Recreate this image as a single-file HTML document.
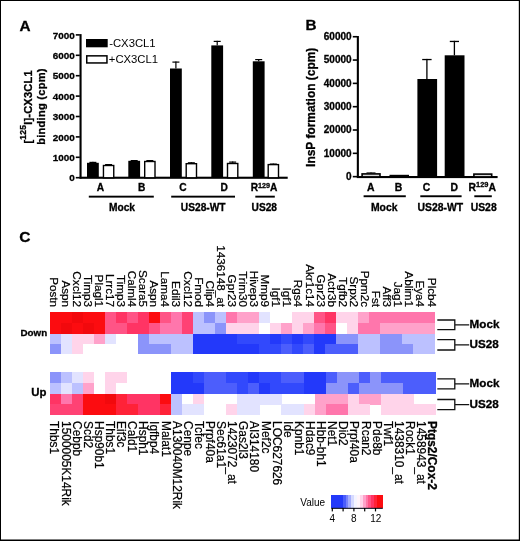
<!DOCTYPE html><html><head><meta charset="utf-8"><title>Figure</title><style>
html,body{margin:0;padding:0;background:#fff}svg{display:block}
text{font-family:"Liberation Sans",Arial,sans-serif;fill:#000}
.b,.ta,.tb,.r{stroke:#000;stroke-width:0.3px}.b{font-weight:bold}.ta{font-size:10.2px;font-weight:bold}.tb{font-size:10.4px;font-weight:bold}
.g{font-size:11.7px;stroke:#000;stroke-width:0.22px}.r{font-size:11.7px;font-weight:bold}
</style></head><body>
<svg width="520" height="541" viewBox="0 0 520 541">
<rect x="0" y="0" width="520" height="541" fill="#fff"/>
<rect x="0" y="0" width="520" height="1" fill="#000"/><rect x="0" y="0" width="1" height="541" fill="#000"/>
<rect x="518.8" y="0" width="1.2" height="541" fill="#000"/><rect x="0" y="539.5" width="520" height="1.5" fill="#000"/>
<text class="b" x="19.6" y="30.6" font-size="15.3">A</text>
<text class="b" font-size="11.1" letter-spacing="0.18" text-anchor="middle" transform="translate(32,106.9) rotate(-90)">[<tspan font-size="8.6" dy="-6.1">125</tspan><tspan dy="6.1">I]-CX3CL1</tspan></text>
<text class="b" font-size="11.1" letter-spacing="0.25" text-anchor="middle" transform="translate(44.6,106.5) rotate(-90)">binding (cpm)</text>
<rect x="79.5" y="34.1" width="2.1" height="144.5" fill="#000"/>
<rect x="79.5" y="176.7" width="208.2" height="2.1" fill="#000"/>
<rect x="75.8" y="176.90" width="4" height="1.6" fill="#000"/>
<text class="ta" style="font-size:9.9px" x="74.7" y="181.30" text-anchor="end">0</text>
<rect x="75.8" y="156.50" width="4" height="1.6" fill="#000"/>
<text class="ta" style="font-size:9.9px" x="74.7" y="160.90" text-anchor="end">1000</text>
<rect x="75.8" y="136.10" width="4" height="1.6" fill="#000"/>
<text class="ta" style="font-size:9.9px" x="74.7" y="140.50" text-anchor="end">2000</text>
<rect x="75.8" y="115.70" width="4" height="1.6" fill="#000"/>
<text class="ta" style="font-size:9.9px" x="74.7" y="120.10" text-anchor="end">3000</text>
<rect x="75.8" y="95.30" width="4" height="1.6" fill="#000"/>
<text class="ta" style="font-size:9.9px" x="74.7" y="99.70" text-anchor="end">4000</text>
<rect x="75.8" y="74.90" width="4" height="1.6" fill="#000"/>
<text class="ta" style="font-size:9.9px" x="74.7" y="79.30" text-anchor="end">5000</text>
<rect x="75.8" y="54.50" width="4" height="1.6" fill="#000"/>
<text class="ta" style="font-size:9.9px" x="74.7" y="58.90" text-anchor="end">6000</text>
<rect x="75.8" y="34.10" width="4" height="1.6" fill="#000"/>
<text class="ta" style="font-size:9.9px" x="74.7" y="38.50" text-anchor="end">7000</text>
<rect x="87.00" y="162.80" width="11.80" height="15.00" fill="#000"/>
<rect x="92.30" y="161.80" width="1.20" height="1.00" fill="#000"/>
<rect x="89.40" y="161.80" width="7.00" height="1.20" fill="#000"/>
<rect x="103.45" y="165.50" width="10.30" height="12.30" fill="#fff" stroke="#000" stroke-width="1.4"/>
<rect x="108.00" y="164.00" width="1.20" height="0.80" fill="#000"/>
<rect x="105.10" y="164.00" width="7.00" height="1.20" fill="#000"/>
<rect x="128.30" y="160.80" width="11.80" height="17.00" fill="#000"/>
<rect x="133.60" y="160.00" width="1.20" height="0.80" fill="#000"/>
<rect x="130.70" y="160.00" width="7.00" height="1.20" fill="#000"/>
<rect x="144.70" y="161.50" width="10.30" height="16.30" fill="#fff" stroke="#000" stroke-width="1.4"/>
<rect x="149.25" y="160.00" width="1.20" height="0.80" fill="#000"/>
<rect x="146.35" y="160.00" width="7.00" height="1.20" fill="#000"/>
<rect x="170.00" y="68.50" width="11.80" height="109.30" fill="#000"/>
<rect x="175.30" y="61.50" width="1.20" height="7.00" fill="#000"/>
<rect x="172.40" y="61.50" width="7.00" height="1.20" fill="#000"/>
<rect x="186.20" y="163.70" width="10.30" height="14.10" fill="#fff" stroke="#000" stroke-width="1.4"/>
<rect x="190.75" y="162.20" width="1.20" height="0.80" fill="#000"/>
<rect x="187.85" y="162.20" width="7.00" height="1.20" fill="#000"/>
<rect x="211.30" y="45.40" width="11.80" height="132.40" fill="#000"/>
<rect x="216.60" y="40.80" width="1.20" height="4.60" fill="#000"/>
<rect x="213.70" y="40.80" width="7.00" height="1.20" fill="#000"/>
<rect x="227.50" y="163.50" width="10.30" height="14.30" fill="#fff" stroke="#000" stroke-width="1.4"/>
<rect x="232.05" y="161.50" width="1.20" height="1.30" fill="#000"/>
<rect x="229.15" y="161.50" width="7.00" height="1.20" fill="#000"/>
<rect x="252.80" y="61.30" width="11.80" height="116.50" fill="#000"/>
<rect x="258.10" y="59.00" width="1.20" height="2.30" fill="#000"/>
<rect x="255.20" y="59.00" width="7.00" height="1.20" fill="#000"/>
<rect x="268.20" y="164.60" width="10.30" height="13.20" fill="#fff" stroke="#000" stroke-width="1.4"/>
<rect x="272.75" y="163.50" width="1.20" height="0.40" fill="#000"/>
<rect x="269.85" y="163.50" width="7.00" height="1.20" fill="#000"/>
<text class="ta" x="100.5" y="191.2" text-anchor="middle">A</text>
<text class="ta" x="141.8" y="191.2" text-anchor="middle">B</text>
<text class="ta" x="183.0" y="191.2" text-anchor="middle">C</text>
<text class="ta" x="224.3" y="191.2" text-anchor="middle">D</text>
<text class="ta" x="250.7" y="191.3">R<tspan font-size="7.2" dy="-3.4">129</tspan><tspan dy="3.4">A</tspan></text>
<rect x="88.8" y="195.7" width="65.0" height="1.9" fill="#000"/>
<rect x="171.2" y="195.7" width="63.8" height="1.9" fill="#000"/>
<rect x="255.3" y="195.7" width="19.5" height="1.9" fill="#000"/>
<text class="ta" x="122.0" y="211.3" text-anchor="middle">Mock</text>
<text class="ta" x="203.2" y="211.3" text-anchor="middle">US28-WT</text>
<text class="ta" x="264.3" y="211.3" text-anchor="middle">US28</text>
<rect x="86" y="39" width="21.7" height="8.3" fill="#000"/>
<rect x="86.75" y="55.85" width="20.2" height="7.1" fill="#fff" stroke="#000" stroke-width="1.5"/>
<text x="109.2" y="47.3" font-size="11.3">-CX3CL1</text>
<text x="108.8" y="63" font-size="11.3">+CX3CL1</text>
<text class="b" x="305.4" y="30.4" font-size="15.3">B</text>
<text class="b" font-size="11.95" text-anchor="middle" transform="translate(315,107.3) rotate(-90)">InsP formation (cpm)</text>
<rect x="356.8" y="36" width="2.1" height="141.6" fill="#000"/>
<rect x="356.8" y="176" width="140.8" height="2.1" fill="#000"/>
<rect x="352.8" y="175.85" width="4.2" height="1.6" fill="#000"/>
<text class="tb" style="font-size:10px" x="351.6" y="180.05" text-anchor="end">0</text>
<rect x="352.8" y="152.53" width="4.2" height="1.6" fill="#000"/>
<text class="tb" style="font-size:10px" x="351.6" y="156.73" text-anchor="end">10000</text>
<rect x="352.8" y="129.21" width="4.2" height="1.6" fill="#000"/>
<text class="tb" style="font-size:10px" x="351.6" y="133.41" text-anchor="end">20000</text>
<rect x="352.8" y="105.89" width="4.2" height="1.6" fill="#000"/>
<text class="tb" style="font-size:10px" x="351.6" y="110.09" text-anchor="end">30000</text>
<rect x="352.8" y="82.57" width="4.2" height="1.6" fill="#000"/>
<text class="tb" style="font-size:10px" x="351.6" y="86.77" text-anchor="end">40000</text>
<rect x="352.8" y="59.25" width="4.2" height="1.6" fill="#000"/>
<text class="tb" style="font-size:10px" x="351.6" y="63.45" text-anchor="end">50000</text>
<rect x="352.8" y="35.93" width="4.2" height="1.6" fill="#000"/>
<text class="tb" style="font-size:10px" x="351.6" y="40.13" text-anchor="end">60000</text>
<rect x="362.10" y="173.90" width="17.90" height="3.00" fill="#d8d8d8" stroke="#000" stroke-width="1.6"/>
<rect x="370.50" y="172.40" width="1.00" height="0.90" fill="#000"/>
<rect x="366.50" y="172.40" width="9.00" height="1.00" fill="#000"/>
<rect x="389.50" y="174.80" width="19.50" height="1.80" fill="#000"/>
<rect x="417.40" y="79.00" width="19.70" height="97.60" fill="#000"/>
<rect x="426.25" y="58.90" width="1.30" height="20.10" fill="#000"/>
<rect x="422.20" y="58.90" width="9.40" height="1.30" fill="#000"/>
<rect x="444.70" y="55.30" width="19.80" height="121.30" fill="#000"/>
<rect x="453.75" y="40.80" width="1.30" height="14.50" fill="#000"/>
<rect x="449.80" y="40.80" width="9.20" height="1.30" fill="#000"/>
<rect x="473.90" y="174.10" width="17.80" height="2.80" fill="#d8d8d8" stroke="#000" stroke-width="1.6"/>
<text class="tb" x="370.7" y="190.8" text-anchor="middle">A</text>
<text class="tb" x="398.5" y="190.8" text-anchor="middle">B</text>
<text class="tb" x="426.6" y="190.8" text-anchor="middle">C</text>
<text class="tb" x="454.3" y="190.8" text-anchor="middle">D</text>
<text class="tb" x="468.6" y="190.8">R<tspan font-size="7.4" dy="-3.6">129</tspan><tspan dy="3.6">A</tspan></text>
<rect x="363.6" y="195.3" width="42.2" height="1.9" fill="#000"/>
<rect x="420.3" y="195.3" width="41.3" height="1.9" fill="#000"/>
<rect x="474.3" y="195.3" width="17.5" height="1.9" fill="#000"/>
<text class="tb" x="384.2" y="210.5" text-anchor="middle">Mock</text>
<text class="tb" x="440.4" y="210.5" text-anchor="middle">US28-WT</text>
<text class="tb" x="483.7" y="210.5" text-anchor="middle">US28</text>
<text class="b" x="19.2" y="241.6" font-size="15.5">C</text>
<g shape-rendering="crispEdges">
<rect x="49.50" y="311.90" width="22.32" height="11.10" fill="#fc0c10"/>
<rect x="71.52" y="311.90" width="11.31" height="11.10" fill="#f2090d"/>
<rect x="82.53" y="311.90" width="22.32" height="11.10" fill="#fc0c10"/>
<rect x="104.54" y="311.90" width="11.31" height="11.10" fill="#ff5486"/>
<rect x="115.55" y="311.90" width="11.31" height="11.10" fill="#ff3464"/>
<rect x="126.56" y="311.90" width="11.31" height="11.10" fill="#ff5486"/>
<rect x="137.57" y="311.90" width="11.31" height="11.10" fill="#ff3464"/>
<rect x="148.58" y="311.90" width="11.31" height="11.10" fill="#fc0c10"/>
<rect x="159.59" y="311.90" width="11.31" height="11.10" fill="#ff5486"/>
<rect x="170.59" y="311.90" width="11.31" height="11.10" fill="#ff76ac"/>
<rect x="181.60" y="311.90" width="11.31" height="11.10" fill="#ff4274"/>
<rect x="192.61" y="311.90" width="11.31" height="11.10" fill="#bcc1ff"/>
<rect x="203.62" y="311.90" width="11.31" height="11.10" fill="#8b94fa"/>
<rect x="214.63" y="311.90" width="11.31" height="11.10" fill="#bcc1ff"/>
<rect x="225.64" y="311.90" width="11.31" height="11.10" fill="#ff76ac"/>
<rect x="236.65" y="311.90" width="22.32" height="11.10" fill="#ffa2ca"/>
<rect x="258.66" y="311.90" width="11.31" height="11.10" fill="#e2e3ff"/>
<rect x="291.69" y="311.90" width="22.32" height="11.10" fill="#ffd4ea"/>
<rect x="313.71" y="311.90" width="11.31" height="11.10" fill="#ff5486"/>
<rect x="324.71" y="311.90" width="11.31" height="11.10" fill="#ff3464"/>
<rect x="335.72" y="311.90" width="22.32" height="11.10" fill="#ffd4ea"/>
<rect x="357.74" y="311.90" width="11.31" height="11.10" fill="#ffa2ca"/>
<rect x="368.75" y="311.90" width="66.35" height="11.10" fill="#ff76ac"/>
<rect x="49.50" y="322.70" width="11.31" height="11.10" fill="#fc0c10"/>
<rect x="60.51" y="322.70" width="11.31" height="11.10" fill="#f2090d"/>
<rect x="71.52" y="322.70" width="11.31" height="11.10" fill="#fc0c10"/>
<rect x="82.53" y="322.70" width="11.31" height="11.10" fill="#f2090d"/>
<rect x="93.53" y="322.70" width="11.31" height="11.10" fill="#fc0c10"/>
<rect x="104.54" y="322.70" width="22.32" height="11.10" fill="#ff5486"/>
<rect x="126.56" y="322.70" width="22.32" height="11.10" fill="#ff3464"/>
<rect x="148.58" y="322.70" width="11.31" height="11.10" fill="#ff5486"/>
<rect x="159.59" y="322.70" width="22.32" height="11.10" fill="#ff76ac"/>
<rect x="181.60" y="322.70" width="11.31" height="11.10" fill="#ff4274"/>
<rect x="192.61" y="322.70" width="22.32" height="11.10" fill="#bcc1ff"/>
<rect x="214.63" y="322.70" width="11.31" height="11.10" fill="#8b94fa"/>
<rect x="225.64" y="322.70" width="33.33" height="11.10" fill="#ffd4ea"/>
<rect x="269.67" y="322.70" width="11.31" height="11.10" fill="#ffd4ea"/>
<rect x="280.68" y="322.70" width="11.31" height="11.10" fill="#ffa2ca"/>
<rect x="291.69" y="322.70" width="11.31" height="11.10" fill="#ffd4ea"/>
<rect x="302.70" y="322.70" width="11.31" height="11.10" fill="#ffa2ca"/>
<rect x="313.71" y="322.70" width="11.31" height="11.10" fill="#ff76ac"/>
<rect x="324.71" y="322.70" width="11.31" height="11.10" fill="#ff5486"/>
<rect x="346.73" y="322.70" width="11.31" height="11.10" fill="#ffd4ea"/>
<rect x="357.74" y="322.70" width="22.32" height="11.10" fill="#ff76ac"/>
<rect x="379.76" y="322.70" width="55.34" height="11.10" fill="#ffa2ca"/>
<rect x="49.50" y="333.50" width="11.31" height="10.80" fill="#bcc1ff"/>
<rect x="60.51" y="333.50" width="11.31" height="10.80" fill="#e2e3ff"/>
<rect x="71.52" y="333.50" width="22.32" height="10.80" fill="#ffd4ea"/>
<rect x="93.53" y="333.50" width="11.31" height="10.80" fill="#ffa2ca"/>
<rect x="104.54" y="333.50" width="11.31" height="10.80" fill="#e2e3ff"/>
<rect x="137.57" y="333.50" width="11.31" height="10.80" fill="#8b94fa"/>
<rect x="148.58" y="333.50" width="44.33" height="10.80" fill="#bcc1ff"/>
<rect x="192.61" y="333.50" width="44.33" height="10.80" fill="#2339fa"/>
<rect x="236.65" y="333.50" width="33.33" height="10.80" fill="#3249fc"/>
<rect x="269.67" y="333.50" width="11.31" height="10.80" fill="#2339fa"/>
<rect x="280.68" y="333.50" width="11.31" height="10.80" fill="#3249fc"/>
<rect x="291.69" y="333.50" width="11.31" height="10.80" fill="#2339fa"/>
<rect x="302.70" y="333.50" width="11.31" height="10.80" fill="#3249fc"/>
<rect x="313.71" y="333.50" width="22.32" height="10.80" fill="#2339fa"/>
<rect x="335.72" y="333.50" width="22.32" height="10.80" fill="#8b94fa"/>
<rect x="357.74" y="333.50" width="22.32" height="10.80" fill="#bcc1ff"/>
<rect x="379.76" y="333.50" width="22.32" height="10.80" fill="#8b94fa"/>
<rect x="401.77" y="333.50" width="33.33" height="10.80" fill="#bcc1ff"/>
<rect x="49.50" y="344.00" width="11.31" height="10.40" fill="#8b94fa"/>
<rect x="60.51" y="344.00" width="11.31" height="10.40" fill="#e2e3ff"/>
<rect x="71.52" y="344.00" width="11.31" height="10.40" fill="#ffd4ea"/>
<rect x="137.57" y="344.00" width="33.33" height="10.40" fill="#8b94fa"/>
<rect x="170.59" y="344.00" width="22.32" height="10.40" fill="#bcc1ff"/>
<rect x="192.61" y="344.00" width="66.35" height="10.40" fill="#2339fa"/>
<rect x="258.66" y="344.00" width="22.32" height="10.40" fill="#3249fc"/>
<rect x="280.68" y="344.00" width="11.31" height="10.40" fill="#4c5efc"/>
<rect x="291.69" y="344.00" width="11.31" height="10.40" fill="#3249fc"/>
<rect x="302.70" y="344.00" width="11.31" height="10.40" fill="#4c5efc"/>
<rect x="313.71" y="344.00" width="11.31" height="10.40" fill="#2339fa"/>
<rect x="324.71" y="344.00" width="33.33" height="10.40" fill="#4c5efc"/>
<rect x="357.74" y="344.00" width="22.32" height="10.40" fill="#bcc1ff"/>
<rect x="379.76" y="344.00" width="33.33" height="10.40" fill="#8b94fa"/>
<rect x="412.78" y="344.00" width="22.32" height="10.40" fill="#bcc1ff"/>
</g>
<g shape-rendering="crispEdges">
<rect x="49.50" y="372.10" width="11.35" height="11.10" fill="#8b94fa"/>
<rect x="60.55" y="372.10" width="11.35" height="11.10" fill="#bcc1ff"/>
<rect x="71.59" y="372.10" width="11.35" height="11.10" fill="#e2e3ff"/>
<rect x="82.64" y="372.10" width="11.35" height="11.10" fill="#ffd4ea"/>
<rect x="104.73" y="372.10" width="22.39" height="11.10" fill="#ffd4ea"/>
<rect x="171.00" y="372.10" width="22.39" height="11.10" fill="#2339fa"/>
<rect x="193.09" y="372.10" width="11.35" height="11.10" fill="#3249fc"/>
<rect x="204.14" y="372.10" width="22.39" height="11.10" fill="#4c5efc"/>
<rect x="226.23" y="372.10" width="22.39" height="11.10" fill="#3249fc"/>
<rect x="248.32" y="372.10" width="11.35" height="11.10" fill="#2339fa"/>
<rect x="259.37" y="372.10" width="22.39" height="11.10" fill="#3249fc"/>
<rect x="281.46" y="372.10" width="22.39" height="11.10" fill="#4c5efc"/>
<rect x="303.55" y="372.10" width="22.39" height="11.10" fill="#2339fa"/>
<rect x="325.64" y="372.10" width="11.35" height="11.10" fill="#4c5efc"/>
<rect x="336.69" y="372.10" width="22.39" height="11.10" fill="#8b94fa"/>
<rect x="358.78" y="372.10" width="11.35" height="11.10" fill="#4c5efc"/>
<rect x="369.83" y="372.10" width="11.35" height="11.10" fill="#8b94fa"/>
<rect x="380.87" y="372.10" width="55.53" height="11.10" fill="#4c5efc"/>
<rect x="49.50" y="382.90" width="11.35" height="11.00" fill="#bcc1ff"/>
<rect x="60.55" y="382.90" width="11.35" height="11.00" fill="#e2e3ff"/>
<rect x="71.59" y="382.90" width="11.35" height="11.00" fill="#bcc1ff"/>
<rect x="82.64" y="382.90" width="11.35" height="11.00" fill="#ffa2ca"/>
<rect x="104.73" y="382.90" width="11.35" height="11.00" fill="#ffd4ea"/>
<rect x="171.00" y="382.90" width="33.44" height="11.00" fill="#2339fa"/>
<rect x="204.14" y="382.90" width="33.44" height="11.00" fill="#4c5efc"/>
<rect x="237.28" y="382.90" width="11.35" height="11.00" fill="#3249fc"/>
<rect x="248.32" y="382.90" width="11.35" height="11.00" fill="#4c5efc"/>
<rect x="259.37" y="382.90" width="11.35" height="11.00" fill="#2339fa"/>
<rect x="270.41" y="382.90" width="33.44" height="11.00" fill="#3249fc"/>
<rect x="303.55" y="382.90" width="22.39" height="11.00" fill="#2339fa"/>
<rect x="325.64" y="382.90" width="22.39" height="11.00" fill="#8b94fa"/>
<rect x="347.73" y="382.90" width="11.35" height="11.00" fill="#4c5efc"/>
<rect x="358.78" y="382.90" width="44.48" height="11.00" fill="#8b94fa"/>
<rect x="402.96" y="382.90" width="33.44" height="11.00" fill="#4c5efc"/>
<rect x="49.50" y="393.60" width="11.35" height="11.10" fill="#ff3464"/>
<rect x="60.55" y="393.60" width="11.35" height="11.10" fill="#ff76ac"/>
<rect x="71.59" y="393.60" width="11.35" height="11.10" fill="#ff4274"/>
<rect x="82.64" y="393.60" width="22.39" height="11.10" fill="#fc0c10"/>
<rect x="104.73" y="393.60" width="11.35" height="11.10" fill="#f2090d"/>
<rect x="115.77" y="393.60" width="11.35" height="11.10" fill="#ff2238"/>
<rect x="126.82" y="393.60" width="33.44" height="11.10" fill="#ff3464"/>
<rect x="159.96" y="393.60" width="11.35" height="11.10" fill="#fc0c10"/>
<rect x="171.00" y="393.60" width="11.35" height="11.10" fill="#bcc1ff"/>
<rect x="193.09" y="393.60" width="11.35" height="11.10" fill="#ffd4ea"/>
<rect x="237.28" y="393.60" width="44.48" height="11.10" fill="#e2e3ff"/>
<rect x="314.60" y="393.60" width="33.44" height="11.10" fill="#ffa2ca"/>
<rect x="347.73" y="393.60" width="11.35" height="11.10" fill="#ffd4ea"/>
<rect x="358.78" y="393.60" width="22.39" height="11.10" fill="#ffa2ca"/>
<rect x="380.87" y="393.60" width="33.44" height="11.10" fill="#ffd4ea"/>
<rect x="49.50" y="404.40" width="33.44" height="10.40" fill="#ff4274"/>
<rect x="82.64" y="404.40" width="33.44" height="10.40" fill="#fc0c10"/>
<rect x="115.77" y="404.40" width="22.39" height="10.40" fill="#ff2238"/>
<rect x="137.87" y="404.40" width="22.39" height="10.40" fill="#ff3464"/>
<rect x="159.96" y="404.40" width="11.35" height="10.40" fill="#ff2238"/>
<rect x="171.00" y="404.40" width="11.35" height="10.40" fill="#bcc1ff"/>
<rect x="182.05" y="404.40" width="22.39" height="10.40" fill="#e2e3ff"/>
<rect x="226.23" y="404.40" width="11.35" height="10.40" fill="#ffd4ea"/>
<rect x="237.28" y="404.40" width="22.39" height="10.40" fill="#e2e3ff"/>
<rect x="281.46" y="404.40" width="22.39" height="10.40" fill="#e2e3ff"/>
<rect x="303.55" y="404.40" width="11.35" height="10.40" fill="#ffd4ea"/>
<rect x="314.60" y="404.40" width="11.35" height="10.40" fill="#ffa2ca"/>
<rect x="325.64" y="404.40" width="22.39" height="10.40" fill="#ff76ac"/>
<rect x="347.73" y="404.40" width="22.39" height="10.40" fill="#ffd4ea"/>
<rect x="380.87" y="404.40" width="55.53" height="10.40" fill="#ffd4ea"/>
</g>
<text class="g" text-anchor="end" transform="translate(50.4,307.1) rotate(90)">Postn</text>
<text class="g" text-anchor="end" transform="translate(61.5,307.1) rotate(90)">Aspn</text>
<text class="g" text-anchor="end" transform="translate(72.6,307.1) rotate(90)">Cxcl12</text>
<text class="g" text-anchor="end" transform="translate(83.7,307.1) rotate(90)">Timp3</text>
<text class="g" text-anchor="end" transform="translate(94.8,307.1) rotate(90)">Plagl1</text>
<text class="g" text-anchor="end" transform="translate(105.8,307.1) rotate(90)">Lrrc17</text>
<text class="g" text-anchor="end" transform="translate(116.9,307.1) rotate(90)">Timp3</text>
<text class="g" text-anchor="end" transform="translate(128.0,307.1) rotate(90)">Calml4</text>
<text class="g" text-anchor="end" transform="translate(139.1,307.1) rotate(90)">Scara5</text>
<text class="g" text-anchor="end" transform="translate(150.2,307.1) rotate(90)">Aspn</text>
<text class="g" text-anchor="end" transform="translate(161.3,307.1) rotate(90)">Lama4</text>
<text class="g" text-anchor="end" transform="translate(172.4,307.1) rotate(90)">Edil3</text>
<text class="g" text-anchor="end" transform="translate(183.5,307.1) rotate(90)">Cxcl12</text>
<text class="g" text-anchor="end" transform="translate(194.6,307.1) rotate(90)">Fmod</text>
<text class="g" text-anchor="end" transform="translate(205.7,307.1) rotate(90)">Clip4</text>
<text class="g" text-anchor="end" transform="translate(216.8,307.1) rotate(90)">1436148_at</text>
<text class="g" text-anchor="end" transform="translate(227.8,307.1) rotate(90)">Gpr23</text>
<text class="g" text-anchor="end" transform="translate(238.9,307.1) rotate(90)">Trim30</text>
<text class="g" text-anchor="end" transform="translate(250.0,307.1) rotate(90)">Hivep3</text>
<text class="g" text-anchor="end" transform="translate(261.1,307.1) rotate(90)">Mmp9</text>
<text class="g" text-anchor="end" transform="translate(272.2,307.1) rotate(90)">Igf1</text>
<text class="g" text-anchor="end" transform="translate(283.3,307.1) rotate(90)">Igf1</text>
<text class="g" text-anchor="end" transform="translate(294.4,307.1) rotate(90)">Rgs4</text>
<text class="g" text-anchor="end" transform="translate(305.5,307.1) rotate(90)">Akr1c14</text>
<text class="g" text-anchor="end" transform="translate(316.6,307.1) rotate(90)">Gpr23</text>
<text class="g" text-anchor="end" transform="translate(327.6,307.1) rotate(90)">Actr3b</text>
<text class="g" text-anchor="end" transform="translate(338.7,307.1) rotate(90)">Tgfb2</text>
<text class="g" text-anchor="end" transform="translate(349.8,307.1) rotate(90)">Srpx2</text>
<text class="g" text-anchor="end" transform="translate(360.9,307.1) rotate(90)">Ppm2c</text>
<text class="g" text-anchor="end" transform="translate(372.0,307.1) rotate(90)">Fst</text>
<text class="g" text-anchor="end" transform="translate(383.1,307.1) rotate(90)">Aff3</text>
<text class="g" text-anchor="end" transform="translate(394.2,307.1) rotate(90)">Jag1</text>
<text class="g" text-anchor="end" transform="translate(405.3,307.1) rotate(90)">Ablim1</text>
<text class="g" text-anchor="end" transform="translate(416.4,307.1) rotate(90)">Eya4</text>
<text class="g" text-anchor="end" transform="translate(427.5,307.1) rotate(90)">Plcb4</text>
<text class="g" style="font-size:11.9px" transform="translate(50.4,421.1) rotate(90)">Thbs1</text>
<text class="g" style="font-size:11.9px" transform="translate(61.5,421.1) rotate(90)">1500005K14Rik</text>
<text class="g" style="font-size:11.9px" transform="translate(72.6,421.1) rotate(90)">Cebpb</text>
<text class="g" style="font-size:11.9px" transform="translate(83.7,421.1) rotate(90)">Scd2</text>
<text class="g" style="font-size:11.9px" transform="translate(94.8,421.1) rotate(90)">Hsp90b1</text>
<text class="g" style="font-size:11.9px" transform="translate(105.9,421.1) rotate(90)">Thbs1</text>
<text class="g" style="font-size:11.9px" transform="translate(117.1,421.1) rotate(90)">Eif3c</text>
<text class="g" style="font-size:11.9px" transform="translate(128.2,421.1) rotate(90)">Cald1</text>
<text class="g" style="font-size:11.9px" transform="translate(139.3,421.1) rotate(90)">Hsph1</text>
<text class="g" style="font-size:11.9px" transform="translate(150.4,421.1) rotate(90)">Igfbp4</text>
<text class="g" style="font-size:11.9px" transform="translate(161.5,421.1) rotate(90)">Malat1</text>
<text class="g" style="font-size:11.9px" transform="translate(172.6,421.1) rotate(90)">A130040M12Rik</text>
<text class="g" style="font-size:11.9px" transform="translate(183.7,421.1) rotate(90)">Cenpe</text>
<text class="g" style="font-size:11.9px" transform="translate(194.8,421.1) rotate(90)">Tcfec</text>
<text class="g" style="font-size:11.9px" transform="translate(205.9,421.1) rotate(90)">Prpf40a</text>
<text class="g" style="font-size:11.9px" transform="translate(217.0,421.1) rotate(90)">Sec61a1</text>
<text class="g" style="font-size:11.9px" transform="translate(228.2,421.1) rotate(90)">1423072_at</text>
<text class="g" style="font-size:11.9px" transform="translate(239.3,421.1) rotate(90)">Gas2l3</text>
<text class="g" style="font-size:11.9px" transform="translate(250.4,421.1) rotate(90)">AI314180</text>
<text class="g" style="font-size:11.9px" transform="translate(261.5,421.1) rotate(90)">Mef2c</text>
<text class="g" style="font-size:11.9px" transform="translate(272.6,421.1) rotate(90)">LOC627626</text>
<text class="g" style="font-size:11.9px" transform="translate(283.7,421.1) rotate(90)">Ide</text>
<text class="g" style="font-size:11.9px" transform="translate(294.8,421.1) rotate(90)">Kpnb1</text>
<text class="g" style="font-size:11.9px" transform="translate(305.9,421.1) rotate(90)">Hdac9</text>
<text class="g" style="font-size:11.9px" transform="translate(317.0,421.1) rotate(90)">Hbb-bh1</text>
<text class="g" style="font-size:11.9px" transform="translate(328.1,421.1) rotate(90)">Net1</text>
<text class="g" style="font-size:11.9px" transform="translate(339.3,421.1) rotate(90)">Dio2</text>
<text class="g" style="font-size:11.9px" transform="translate(350.4,421.1) rotate(90)">Prpf40a</text>
<text class="g" style="font-size:11.9px" transform="translate(361.5,421.1) rotate(90)">Rcan2</text>
<text class="g" style="font-size:11.9px" transform="translate(372.6,421.1) rotate(90)">Pde8b</text>
<text class="g" style="font-size:11.9px" transform="translate(383.7,421.1) rotate(90)">Twf1</text>
<text class="g" style="font-size:11.9px" transform="translate(394.8,421.1) rotate(90)">1438310_at</text>
<text class="g" style="font-size:11.9px" transform="translate(405.9,421.1) rotate(90)">Rock1</text>
<text class="g" style="font-size:11.9px" transform="translate(417.0,421.1) rotate(90)">1458943_at</text>
<text class="r" style="font-size:11.9px" transform="translate(428.1,421.1) rotate(90)">Ptgs2/Cox-2</text>
<text class="b" font-size="9.8" x="47.2" y="335.8" text-anchor="end">Down</text>
<text class="b" font-size="11.4" x="46.5" y="396.3" text-anchor="end">Up</text>
<path d="M437.3 320.0H454.8V329.7H437.3M454.8 324.9H469.2" fill="none" stroke="#111" stroke-width="1.3"/>
<text class="b" font-size="11.7" x="469.6" y="328.2">Mock</text>
<path d="M437.3 339.7H454.8V350.0H437.3M454.8 344.9H469.2" fill="none" stroke="#111" stroke-width="1.3"/>
<text class="b" font-size="11.7" x="469.6" y="348.2">US28</text>
<path d="M437.3 378.8H454.8V388.8H437.3M454.8 383.8H469.2" fill="none" stroke="#111" stroke-width="1.3"/>
<text class="b" font-size="11.7" x="469.6" y="387.1">Mock</text>
<path d="M437.3 399.5H454.8V409.6H437.3M454.8 404.6H469.2" fill="none" stroke="#111" stroke-width="1.3"/>
<text class="b" font-size="11.7" x="469.6" y="407.9">US28</text>
<text font-size="10" x="300.3" y="506.4">Value</text>
<g shape-rendering="crispEdges">
<rect x="331.30" y="494.6" width="3.16" height="13.8" fill="#2339fa"/>
<rect x="334.16" y="494.6" width="3.16" height="13.8" fill="#2339fa"/>
<rect x="337.02" y="494.6" width="3.16" height="13.8" fill="#2339fa"/>
<rect x="339.88" y="494.6" width="3.16" height="13.8" fill="#2339fa"/>
<rect x="342.74" y="494.6" width="3.16" height="13.8" fill="#4a5cfb"/>
<rect x="345.61" y="494.6" width="3.16" height="13.8" fill="#7782fc"/>
<rect x="348.47" y="494.6" width="3.16" height="13.8" fill="#a5adfd"/>
<rect x="351.33" y="494.6" width="3.16" height="13.8" fill="#d6daff"/>
<rect x="354.19" y="494.6" width="3.16" height="13.8" fill="#f4f4ff"/>
<rect x="357.05" y="494.6" width="3.16" height="13.8" fill="#fff4fa"/>
<rect x="359.91" y="494.6" width="3.16" height="13.8" fill="#ffd4ea"/>
<rect x="362.77" y="494.6" width="3.16" height="13.8" fill="#ffa2ca"/>
<rect x="365.63" y="494.6" width="3.16" height="13.8" fill="#ff78a8"/>
<rect x="368.49" y="494.6" width="3.16" height="13.8" fill="#ff5486"/>
<rect x="371.36" y="494.6" width="3.16" height="13.8" fill="#ff3464"/>
<rect x="374.22" y="494.6" width="3.16" height="13.8" fill="#ff2238"/>
<rect x="377.08" y="494.6" width="3.16" height="13.8" fill="#fc0c10"/>
<rect x="379.94" y="494.6" width="3.16" height="13.8" fill="#fc0c10"/>
</g>
<rect x="331.3" y="507.8" width="51.5" height="1.1" fill="#112"/>
<rect x="331.70" y="508" width="1.2" height="3.4" fill="#000"/>
<rect x="342.50" y="508" width="1.2" height="3.4" fill="#000"/>
<rect x="353.30" y="508" width="1.2" height="3.4" fill="#000"/>
<rect x="364.10" y="508" width="1.2" height="3.4" fill="#000"/>
<rect x="374.90" y="508" width="1.2" height="3.4" fill="#000"/>
<text font-size="10" x="332.2" y="521.7" text-anchor="middle">4</text>
<text font-size="10" x="353.8" y="521.7" text-anchor="middle">8</text>
<text font-size="10" x="375.7" y="521.7" text-anchor="middle">12</text>
</svg></body></html>
